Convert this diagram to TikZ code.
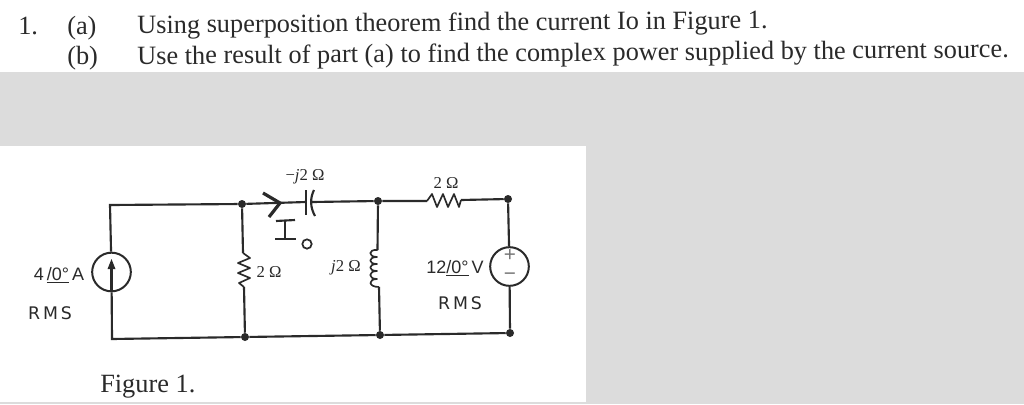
\documentclass[tikz,border=0pt]{standalone}
\usepackage{fontspec}
\setmainfont{Liberation Serif}
\newfontfamily\hand{Liberation Sans}
\newfontfamily\scribble{DejaVu Sans}
\definecolor{pagegrey}{HTML}{DCDCDC}
\definecolor{ink}{HTML}{2A2A2A}
\tikzset{
  wire/.style={draw=ink,line width=1.6pt,line join=miter},
  thin wire/.style={draw=ink,line width=1.25pt,line join=round},
  dot/.style={circle,fill=ink,inner sep=0pt,minimum size=6pt},
  source/.style={circle,draw=ink,line width=1.5pt,fill=white,inner sep=0pt,minimum size=29pt},
  head/.style={anchor=base west,inner sep=0pt,text=ink,font=\fontsize{19.75pt}{22pt}\selectfont},
  value/.style={inner sep=0pt,text=ink,font=\fontsize{12.5pt}{14pt}\selectfont},
  given/.style={inner sep=0pt,text=ink,font=\hand\fontsize{13.5pt}{14pt}\selectfont},
  rms/.style={inner sep=0pt,text=ink,font=\scribble\fontsize{13pt}{14pt}\selectfont},
}
\begin{document}
\begin{tikzpicture}[x=0.75pt,y=-0.75pt]
\useasboundingbox (0,0) rectangle (1024,404);
\fill[white] (0,0) rectangle (1024,404);
\fill[pagegrey] (0,72) rectangle (1024,146);
\fill[pagegrey] (586,146) rectangle (1024,404);
\fill[pagegrey] (0,402) rectangle (586,404);
% question text
\node[head] (n1) at (18,34) {1.};
\node[head] (pa) at (67,34) {(a)};
\node[head] (pb) at (67,64.5) {(b)};
\node[head,rotate=0.45] (q1) at (137,33.5) {Using superposition theorem find the current Io in Figure 1.};
\node[head,rotate=0.45] (q2) at (137,64.5) {Use the result of part (a) to find the complex power supplied by the current source.};
\node[head] (fig) at (100,392) {Figure 1.};
% junctions
\coordinate (tl) at (110,205);
\coordinate (bl) at (112,339);
\node[dot] (j1) at (242,204) {};
\node[dot] (j1b) at (245,337) {};
\node[dot] (j2) at (378,201) {};
\node[dot] (j2b) at (380,335) {};
\node[dot] (j3) at (508,199) {};
\node[dot] (j3b) at (510,333) {};
% sources
\node[source] (is) at (111.5,272) {};
\node[source] (vs) at (509.5,266.5) {};
% source arrow
\coordinate (isb) at (111.5,291);
\coordinate (ist) at (111.5,264);
\draw[wire] (isb) -- (ist);
\fill[ink] (111.5,259) -- (107.5,269) -- (115.5,269) -- cycle;
% plus minus
\node[inner sep=0pt,text=ink!65,font=\hand\fontsize{15.5pt}{15.5pt}\selectfont] (plus) at (510,256) {+};
\node[inner sep=0pt,text=ink!65,font=\hand\fontsize{15.5pt}{15.5pt}\selectfont] (minus) at (510,277) {−};
% element terminals
\coordinate (ra) at (243,253);
\coordinate (rb) at (244,287);
\coordinate (la) at (377.5,250);
\coordinate (lb) at (379,287);
\coordinate (ha) at (427,201);
\coordinate (hb) at (461,200);
\coordinate (ca) at (306,202);
\coordinate (cb) at (312,202);
% wires
\draw[wire] (is) -- (tl) -- (j1) -- (ca);
\draw[wire] (is) -- (bl) -- (j1b) -- (j2b) -- (j3b) -- (vs) -- (j3) -- (hb);
\draw[wire] (cb) -- (j2) -- (ha);
\draw[wire] (j1) -- (ra);
\draw[wire] (rb) -- (j1b);
\draw[wire] (j2) -- (la);
\draw[wire] (lb) -- (j2b);
% vertical resistor
\draw[thin wire] (ra) -- (250,258) -- (238,263) -- (250,268) -- (238,273) -- (250,278) -- (239,283) -- (rb);
% horizontal resistor
\draw[thin wire] (ha) -- (432,194) -- (437,207) -- (443,194) -- (448,207) -- (454,194) -- (459,207) -- (hb);
% capacitor
\draw[wire] (306,190) -- (306,215);
\draw[wire] (314,190) .. controls (310,198) and (310,207) .. (315,216);
% inductor
\draw[thin wire] (la) .. controls (368,249) and (368,257) .. (377,257)
  .. controls (368,257) and (368,264) .. (377,264)
  .. controls (368,264) and (368,271) .. (377,271)
  .. controls (368,271) and (368,279) .. (377,279)
  .. controls (368,279) and (368,287) .. (lb);
% current arrow
\coordinate (ch1) at (263,193);
\coordinate (ch2) at (280,203);
\coordinate (ch3) at (269,217);
\draw[draw=ink,line width=2.4pt] (ch1) -- (ch2) -- (ch3);
% handwritten I_o
\coordinate (ia) at (276,221);
\coordinate (ib) at (295,220);
\coordinate (ic) at (285,221);
\coordinate (id) at (285,239);
\coordinate (ie) at (275,239);
\coordinate (if) at (296,239);
\draw[wire] (ia) -- (ib);
\draw[wire] (ic) -- (id);
\draw[wire] (ie) -- (if);
\node[circle,draw=ink,line width=1.3pt,inner sep=0pt,minimum size=7pt] (osub) at (307,244) {};
% labels
\node[value] (lc) at (305,177) {−\textit{j}2 Ω};
\node[value] (lr2) at (446,183) {2 Ω};
\node[value] (lr1) at (269,272) {2 Ω};
\node[value] (ll) at (346,268) {\textit{j}2 Ω};
\node[given] (li) at (59,275) {4\,\underline{/0°}\,A};
\node[given] (lv) at (455,268) {12\underline{/0°}\,V};
\node[rms] (rms1) at (50,313) {R\,M\,S};
\node[rms] (rms2) at (460,303) {R\,M\,S};
\end{tikzpicture}
\end{document}
